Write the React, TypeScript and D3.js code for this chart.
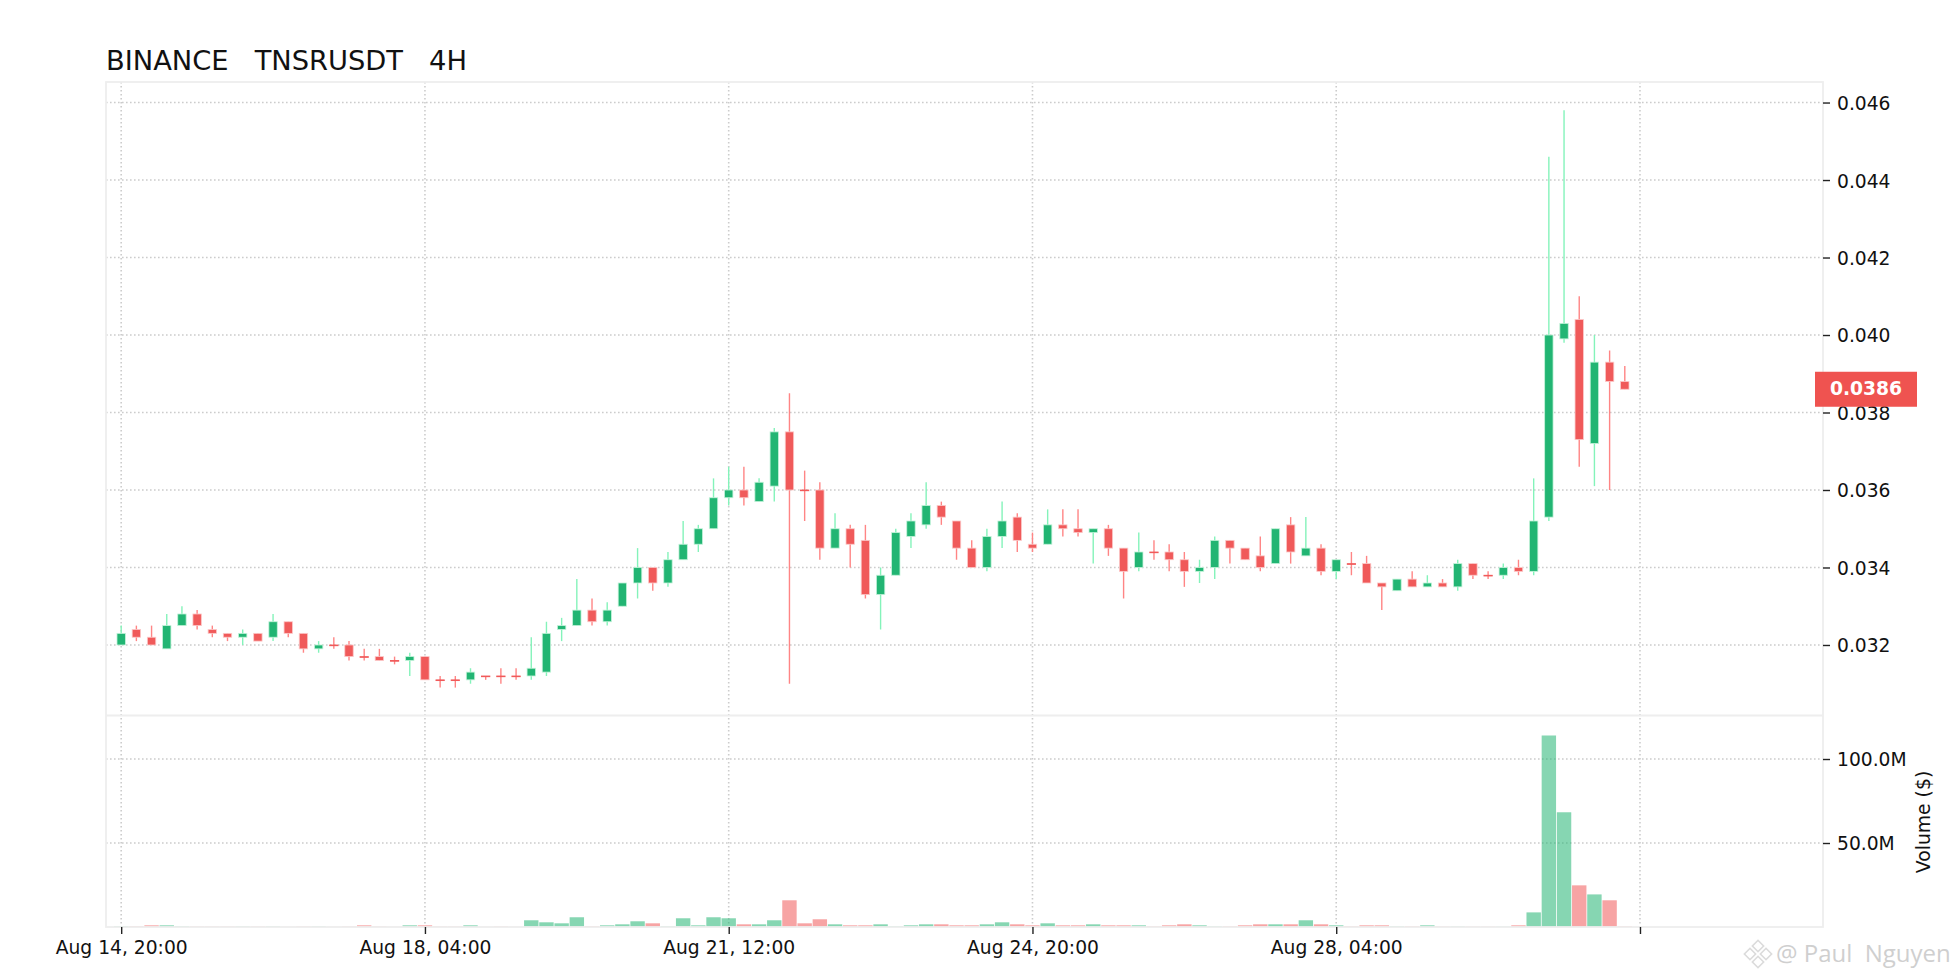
import { useEffect, useRef } from "react";
import * as d3 from "d3";

const opens = [
  0.032, 0.0324, 0.0322, 0.0319, 0.0325, 0.0328, 0.0324, 0.0323, 0.0322, 0.0323,
  0.0322, 0.0326, 0.0323, 0.0319, 0.032, 0.032, 0.0317, 0.0317, 0.0316, 0.0316,
  0.0317, 0.0311, 0.0311, 0.0311, 0.0312, 0.0312, 0.0312, 0.0312, 0.0313, 0.0324,
  0.0325, 0.0329, 0.0326, 0.033, 0.0336, 0.034, 0.0336, 0.0342, 0.0346, 0.035,
  0.0358, 0.036, 0.0357, 0.0361, 0.0375, 0.036, 0.036, 0.0345, 0.035, 0.0347,
  0.0333, 0.0338, 0.0348, 0.0351, 0.0356, 0.0352, 0.0345, 0.034, 0.0348, 0.0353,
  0.0346, 0.0346, 0.0351, 0.035, 0.0349, 0.035, 0.0345, 0.034, 0.0344, 0.0344,
  0.0342, 0.0339, 0.034, 0.0347, 0.0345, 0.0343, 0.0341, 0.0351, 0.0343, 0.0345,
  0.0339, 0.0341, 0.0341, 0.0336, 0.0334, 0.0337, 0.0335, 0.0336, 0.0335, 0.0341,
  0.0338, 0.0338, 0.034, 0.0339, 0.0353, 0.0399, 0.0404, 0.0372, 0.0393, 0.0388,
];
const closes = [
  0.0323, 0.0322, 0.032, 0.0325, 0.0328, 0.0325, 0.0323, 0.0322, 0.0323, 0.0321,
  0.0326, 0.0323, 0.0319, 0.032, 0.03198, 0.0317, 0.03168, 0.0316, 0.03158, 0.0317,
  0.0311, 0.03108, 0.03108, 0.0313, 0.03118, 0.03118, 0.03118, 0.0314, 0.0323, 0.0325,
  0.0329, 0.0326, 0.0329, 0.0336, 0.034, 0.0336, 0.0342, 0.0346, 0.035, 0.0358,
  0.036, 0.0358, 0.0362, 0.0375, 0.036, 0.03598, 0.0345, 0.035, 0.0346, 0.0333,
  0.0338, 0.0349, 0.0352, 0.0356, 0.0353, 0.0345, 0.034, 0.0348, 0.0352, 0.0347,
  0.0345, 0.0351, 0.035, 0.0349, 0.035, 0.0345, 0.0339, 0.0344, 0.03438, 0.0342,
  0.0339, 0.034, 0.0347, 0.0345, 0.0342, 0.034, 0.035, 0.0344, 0.0345, 0.0339,
  0.0342, 0.03408, 0.0336, 0.0335, 0.0337, 0.0335, 0.0336, 0.0335, 0.0341, 0.0338,
  0.03378, 0.034, 0.0339, 0.0352, 0.04, 0.0403, 0.0373, 0.0393, 0.0388, 0.0386,
];
const highs = [
  0.0325, 0.0325, 0.0325, 0.0328, 0.033, 0.0329, 0.0325, 0.0323, 0.0324, 0.0323,
  0.0328, 0.0326, 0.0323, 0.0321, 0.0322, 0.0321, 0.0319, 0.0319, 0.0317, 0.0318,
  0.0317, 0.0312, 0.0312, 0.0314, 0.0312, 0.0314, 0.0314, 0.0322, 0.0326, 0.0327,
  0.0337, 0.0332, 0.0331, 0.0336, 0.0345, 0.034, 0.0344, 0.0352, 0.0351, 0.0363,
  0.0366, 0.0366, 0.0363, 0.0376, 0.0385, 0.0365, 0.0362, 0.0354, 0.0351, 0.0351,
  0.034, 0.035, 0.0354, 0.0362, 0.0357, 0.0352, 0.0347, 0.035, 0.0357, 0.0354,
  0.0349, 0.0355, 0.0355, 0.0355, 0.035, 0.0351, 0.0345, 0.0349, 0.0347, 0.0346,
  0.0344, 0.0342, 0.0348, 0.0347, 0.0345, 0.0348, 0.035, 0.0353, 0.0353, 0.0346,
  0.0342, 0.0344, 0.0343, 0.0336, 0.0337, 0.0339, 0.0338, 0.0337, 0.0342, 0.0341,
  0.0339, 0.0341, 0.0342, 0.0363, 0.0446, 0.0458, 0.041, 0.04, 0.0396, 0.0392,
];
const lows = [
  0.032, 0.0321, 0.032, 0.0319, 0.0325, 0.0324, 0.0322, 0.0321, 0.032, 0.0321,
  0.0321, 0.0322, 0.0318, 0.0318, 0.0319, 0.0316, 0.0316, 0.0316, 0.0315, 0.0312,
  0.0311, 0.0309, 0.0309, 0.031, 0.0311, 0.031, 0.0311, 0.0311, 0.0312, 0.0321,
  0.0325, 0.0325, 0.0325, 0.033, 0.0332, 0.0334, 0.0335, 0.0342, 0.0344, 0.035,
  0.0356, 0.0356, 0.0357, 0.0357, 0.031, 0.0352, 0.0342, 0.0345, 0.034, 0.0332,
  0.0324, 0.0338, 0.0345, 0.035, 0.0351, 0.0342, 0.034, 0.0339, 0.0345, 0.0344,
  0.0344, 0.0346, 0.0348, 0.0348, 0.0341, 0.0343, 0.0332, 0.0339, 0.0342, 0.0339,
  0.0335, 0.0336, 0.0337, 0.0341, 0.0342, 0.0339, 0.0341, 0.0341, 0.0343, 0.0338,
  0.0337, 0.0338, 0.0336, 0.0329, 0.0334, 0.0335, 0.0335, 0.0335, 0.0334, 0.0337,
  0.0337, 0.0337, 0.0338, 0.0338, 0.0352, 0.0398, 0.0366, 0.0361, 0.036, 0.0386,
];
// volume in millions of dollars
const volumes = [
  0.4, 0.4, 1, 1, 0.4, 0.3, 0.3, 0.3, 0.3, 0.3,
  0.3, 0.1, 0.3, 0.3, 0.1, 0.3, 1, 0.3, 0.1, 1,
  1, 0.3, 0.3, 1, 0.1, 0.3, 0.1, 4, 2.8, 2.2,
  5.8, 0.4, 1, 1.6, 3.4, 2.2, 0.4, 5.2, 1, 5.8,
  5.2, 1.6, 1.6, 4, 15.9, 2.2, 4.6, 1.6, 1, 1,
  1.6, 0.4, 1, 1.6, 1.6, 1, 1, 1.6, 2.8, 1.6,
  1, 2.2, 1, 1, 1.6, 1, 1, 1, 0.4, 1,
  1.6, 1, 0.4, 0.4, 1, 1.6, 1.6, 1.6, 4, 1.6,
  1, 0.4, 1, 1, 0.4, 0.4, 1, 0.3, 0.3, 0.2,
  0.2, 0.2, 1, 8.7, 114, 68.3, 24.8, 19.4, 15.9, 0.4,
];
const timeTicks = [0, 20, 40, 60, 80, 100];
const timeLabels = ["Aug 14, 20:00", "Aug 18, 04:00", "Aug 21, 12:00", "Aug 24, 20:00", "Aug 28, 04:00", ""];
const priceTicks = [0.032, 0.034, 0.036, 0.038, 0.04, 0.042, 0.044, 0.046];
const volumeTicks = [50, 100];

const font = "DejaVu Sans";
const upColor = "#22b573";
const downColor = "#f05a5a";

const App = () => {
  const chartRef = useRef<SVGSVGElement>(null);

  useEffect(() => {
    const svg = d3.select(chartRef.current);
    svg.selectAll("*").remove();

    const left = 106;
    const right = 1823;
    const top = 82;
    const split = 715.5;
    const bottom = 927;

    const x = d3.scaleLinear().domain([-1, 112.05]).range([left, right]);
    const y = d3.scaleLinear().domain([0.03018, 0.04653]).range([split, top]);
    const v = d3.scaleLinear().domain([0, 125.9]).range([bottom, split]);

    const grid = svg.append("g").attr("stroke", "#cccccc").attr("stroke-width", 1.6).attr("stroke-dasharray", "1.6 2.4");
    grid.selectAll(".gx").data(timeTicks).enter().append("line")
      .attr("x1", (d) => x(d)).attr("x2", (d) => x(d)).attr("y1", top).attr("y2", bottom);
    grid.selectAll(".gy").data(priceTicks).enter().append("line")
      .attr("x1", left).attr("x2", right).attr("y1", (d) => y(d)).attr("y2", (d) => y(d));
    grid.selectAll(".gv").data(volumeTicks).enter().append("line")
      .attr("x1", left).attr("x2", right).attr("y1", (d) => v(d)).attr("y2", (d) => v(d));

    const isUp = (i: number) => closes[i] >= opens[i];
    const idx = d3.range(opens.length);

    // volume bars
    svg.selectAll(".vol").data(idx).enter().append("rect")
      .attr("x", (i) => x(i) - 7.2)
      .attr("width", 14.4)
      .attr("y", (i) => v(volumes[i]))
      .attr("height", (i) => bottom - v(volumes[i]))
      .attr("fill", (i) => (isUp(i) ? upColor : downColor))
      .attr("fill-opacity", 0.55);

    // wicks
    svg.selectAll(".wick").data(idx).enter().append("line")
      .attr("x1", (i) => x(i)).attr("x2", (i) => x(i))
      .attr("y1", (i) => y(highs[i])).attr("y2", (i) => y(lows[i]))
      .attr("stroke", (i) => (isUp(i) ? "#84f3ba" : "#ff8585"))
      .attr("stroke-width", 1.4);

    // bodies, very thin ones get no pale edge so they stay readable
    const bodyHeight = (i: number) => Math.abs(y(opens[i]) - y(closes[i]));
    svg.selectAll(".body").data(idx).enter().append("rect")
      .attr("x", (i) => x(i) - 4.2)
      .attr("width", 8.4)
      .attr("y", (i) => y(Math.max(opens[i], closes[i])))
      .attr("height", (i) => bodyHeight(i))
      .attr("fill", (i) => (isUp(i) ? upColor : downColor))
      .attr("stroke", (i) => (bodyHeight(i) < 2 ? downColor : isUp(i) ? "#c4f3da" : "#fcc9c9"))
      .attr("stroke-width", 0.8);

    // panel frame
    const frame = svg.append("g").attr("fill", "none").attr("stroke", "#eeeeee").attr("stroke-width", 1.8);
    frame.append("rect").attr("x", left).attr("y", top).attr("width", right - left).attr("height", bottom - top);
    frame.append("line").attr("x1", left).attr("x2", right).attr("y1", split).attr("y2", split);

    // axes
    const styleAxis = (g: any) => {
      g.select(".domain").remove();
      g.selectAll("text").attr("font-family", font).attr("font-size", 18.7).attr("fill", "#111");
      g.selectAll("line").attr("stroke", "#222").attr("stroke-width", 1.4);
    };
    svg.append("g").attr("transform", `translate(${right},1)`)
      .call(d3.axisRight(y).tickValues(priceTicks).tickFormat(d3.format(".3f")).tickSize(7).tickPadding(7))
      .call(styleAxis)
      .call((g: any) => g.selectAll("line").attr("transform", "translate(0,-1)"));
    svg.append("g").attr("transform", `translate(${right},1)`)
      .call(d3.axisRight(v).tickValues(volumeTicks).tickFormat((d) => `${(+d).toFixed(1)}M`).tickSize(7).tickPadding(7))
      .call(styleAxis)
      .call((g: any) => g.selectAll("line").attr("transform", "translate(0,-1)"));
    svg.append("g").attr("transform", `translate(0,${bottom})`)
      .call(d3.axisBottom(x).tickValues(timeTicks).tickFormat((_, i) => timeLabels[i]).tickSize(7).tickPadding(7))
      .call(styleAxis);

    svg.append("text").attr("x", left).attr("y", 70)
      .attr("font-family", font).attr("font-size", 27.3).attr("fill", "#111")
      .attr("xml:space", "preserve").style("white-space", "pre")
      .text("BINANCE   TNSRUSDT   4H");

    svg.append("text")
      .attr("transform", `translate(1930,822) rotate(-90)`)
      .attr("text-anchor", "middle")
      .attr("font-family", font).attr("font-size", 18.8).attr("fill", "#111")
      .text("Volume ($)");

    // last price tag
    const lastY = y(closes[closes.length - 1]);
    svg.append("rect").attr("x", 1815).attr("y", lastY - 17.5).attr("width", 102).attr("height", 35).attr("fill", "#ef5350");
    svg.append("text").attr("x", 1866).attr("y", lastY + 6)
      .attr("text-anchor", "middle").attr("font-family", font).attr("font-weight", "bold")
      .attr("font-size", 18.7).attr("fill", "#fff").text("0.0386");

    // watermark
    const mark = svg.append("g").attr("transform", "translate(1758,954)").attr("fill", "none").attr("stroke", "#dcdcdc").attr("stroke-width", 1.6);
    [[0, -8], [-8, 0], [8, 0], [0, 8]].forEach(([dx, dy]) => {
      mark.append("rect").attr("x", dx - 4).attr("y", dy - 4).attr("width", 8).attr("height", 8)
        .attr("transform", `rotate(45 ${dx} ${dy})`);
    });
    svg.append("text").attr("x", 1776).attr("y", 962)
      .attr("font-family", "Open Sans").attr("font-size", 24).attr("fill", "#cfcfcf")
      .attr("xml:space", "preserve").style("white-space", "pre")
      .text("@ Paul  Nguyen");
  }, []);

  return <svg ref={chartRef} width={1960} height={980} style={{ position: "absolute", left: 0, top: 0, background: "#fff" }}></svg>;
};

export default App;
